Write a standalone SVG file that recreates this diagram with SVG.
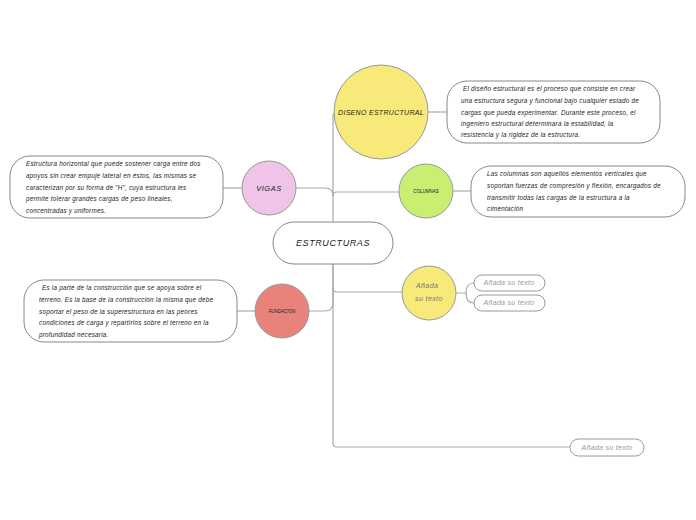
<svg xmlns="http://www.w3.org/2000/svg" width="696" height="520" viewBox="0 0 696 520">
<style>
text{font-family:"Liberation Sans",Arial,sans-serif;font-style:italic;fill:#222}
.b{fill:#fff;stroke:#888;stroke-width:1}
.c{stroke:#999;stroke-width:1}
.l{fill:none;stroke:#aaa;stroke-width:1.2}
.t{font-size:6.3px;letter-spacing:0.25px}
.s{fill:#fff;stroke:#999;stroke-width:1}
.g{fill:#999;font-size:7px;letter-spacing:0.3px}
</style>
<rect width="696" height="520" fill="#fff"/>
<g id="connectors" class="l">
<path d="M333 222 V196 Q333 188 325 188 H296"/>
<path d="M333 196 V116 Q333 112 337 112"/>
<path d="M333 196 Q333 192 337 192 H399"/>
<path d="M333 264 V303 Q333 311 325 311 H309"/>
<path d="M333 264 V288 Q333 292 337 292 H402"/>
<path d="M333 288 V443 Q333 447 337 447 H570"/>
<path d="M428 112 H447"/><path d="M453 191 H471"/>
<path d="M223 188 H242"/><path d="M237 311 H255"/>
<path d="M456 293 H466 Q466 283 474 283"/><path d="M466 293 Q466 303 474 303"/>
</g>
<g id="central"><rect class="b" x="273" y="222" width="120" height="42" rx="21"/><text x="333" y="246" text-anchor="middle" font-size="9" letter-spacing="0.6">ESTRUCTURAS</text></g>
<g id="diseno"><circle class="c" cx="381" cy="112" r="47" fill="#f7e97a"/><text x="381" y="115" text-anchor="middle" font-size="7" letter-spacing="0.3">DISENO ESTRUCTURAL</text></g>
<g id="diseno-text"><rect class="b" x="447" y="81" width="213" height="62" rx="20"/>
<text class="t"><tspan x="463" y="91">El diseño estructural es el proceso que consiste en crear</tspan><tspan x="461" y="103">una estructura segura y funcional bajo cualquier estado de</tspan><tspan x="461" y="115">cargas que pueda experimentar. Durante este proceso, el</tspan><tspan x="461" y="126">ingeniero estructural determinará la estabilidad, la</tspan><tspan x="461" y="137">resistencia y la rigidez de la estructura.</tspan></text></g>
<g id="columnas"><circle class="c" cx="426" cy="191" r="27" fill="#c8ee72"/><text x="426" y="193" text-anchor="middle" font-size="4.5">COLUMNAS</text></g>
<g id="columnas-text"><rect class="b" x="471" y="166" width="214" height="51" rx="20"/>
<text class="t"><tspan x="487" y="176">Las columnas son aquellos elementos verticales que</tspan><tspan x="487" y="188">soportan fuerzas de compresión y flexión, encargados de</tspan><tspan x="487" y="200">transmitir todas las cargas de la estructura a la</tspan><tspan x="487" y="211">cimentación</tspan></text></g>
<g id="vigas"><circle class="c" cx="269" cy="188" r="27" fill="#f0c3e8"/><text x="269" y="191" text-anchor="middle" font-size="7.5" letter-spacing="0.5">VIGAS</text></g>
<g id="vigas-text"><rect class="b" x="10" y="156" width="213" height="62" rx="20"/>
<text class="t"><tspan x="26" y="166">Estructura horizontal que puede sostener carga entre dos</tspan><tspan x="26" y="178">apoyos sin crear empuje lateral en éstos, las mismas se</tspan><tspan x="26" y="190">caracterizan por su forma de "H", cuya estructura les</tspan><tspan x="26" y="201">permite tolerar grandes cargas de peso lineales,</tspan><tspan x="26" y="213">concentradas y uniformes.</tspan></text></g>
<g id="fundacion"><circle class="c" cx="282" cy="311" r="27" fill="#e8827a"/><text x="282" y="313" text-anchor="middle" font-size="4.5">FUNDACION</text></g>
<g id="fundacion-text"><rect class="b" x="24" y="280" width="213" height="62" rx="20"/>
<text class="t"><tspan x="42" y="290">Es la parte de la construcción que se apoya sobre el</tspan><tspan x="39" y="302">terreno. Es la base de la construcción la misma que debe</tspan><tspan x="39" y="314">soportar el peso de la superestructura en las peores</tspan><tspan x="39" y="325">condiciones de carga y repartirlos sobre el terreno en la</tspan><tspan x="39" y="337">profundidad necesaria.</tspan></text></g>
<g id="anada"><circle class="c" cx="429" cy="293" r="27" fill="#f7e97a"/><text font-size="7" letter-spacing="0.4" style="fill:#777"><tspan x="416" y="288">Añada</tspan><tspan x="415" y="301">su texto</tspan></text></g>
<g id="sub1"><rect class="s" x="474" y="275" width="71" height="16" rx="8"/><text class="g" x="509" y="285" text-anchor="middle" style="fill:#999">Añada su texto</text></g>
<g id="sub2"><rect class="s" x="474" y="295" width="71" height="16" rx="8"/><text class="g" x="509" y="305" text-anchor="middle" style="fill:#999">Añada su texto</text></g>
<g id="sub3"><rect class="s" x="570" y="439" width="74" height="17" rx="8.5"/><text class="g" x="607" y="450" text-anchor="middle" style="fill:#999">Añada su texto</text></g>
</svg>
